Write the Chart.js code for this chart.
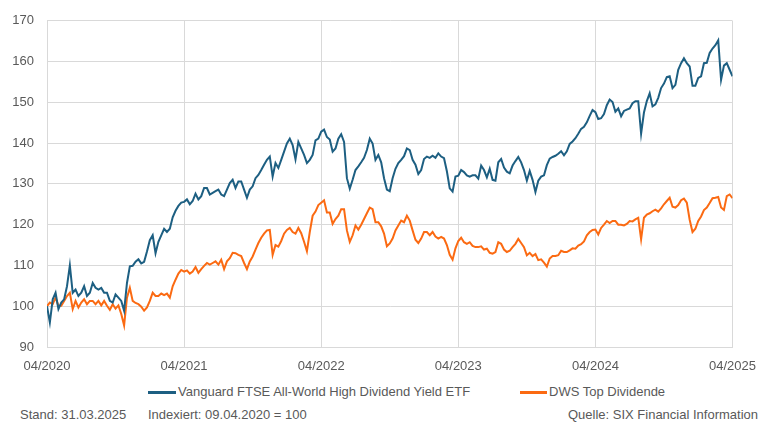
<!DOCTYPE html>
<html lang="de">
<head>
<meta charset="utf-8">
<script src="https://cdn.jsdelivr.net/npm/chart.js"></script>
<style>
  body { margin: 0; background: #fff; font-family: "Liberation Sans", Arial, sans-serif; color: #595959; }
  #wrap { position: relative; width: 768px; height: 431px; overflow: hidden; }
  #chart { position: absolute; left: 0; top: 0; }
  .txt { position: absolute; font-size: 13px; line-height: 16px; white-space: nowrap; }
  .key { position: absolute; height: 3px; }
</style>
</head>
<body>
<div id="wrap">
  <canvas id="chart" width="768" height="380"></canvas>
  <div class="key" style="left:148px; top:391px; width:28px; background:#1d5f82"></div>
  <div class="txt" style="left:178px; top:384px">Vanguard FTSE All-World High Dividend Yield ETF</div>
  <div class="key" style="left:520px; top:391px; width:27px; background:#fb6a12"></div>
  <div class="txt" style="left:549px; top:384px">DWS Top Dividende</div>
  <div class="txt" style="left:20px; top:407px">Stand: 31.03.2025</div>
  <div class="txt" style="left:148px; top:407px">Indexiert: 09.04.2020 = 100</div>
  <div class="txt" style="right:10px; top:407px">Quelle: SIX Financial Information</div>
</div>
<script>
// Ticks der x-Achse (jährlich)
const tickLabels = ['04/2020', '04/2021', '04/2022', '04/2023', '04/2024', '04/2025'];

// Indexwerte, wöchentlich (1/4 Monat) ab 09.04.2020 (= 100)
const vanguard = [
  100, 96, 101.7, 103.3, 99.3, 100.9, 101.7, 104.9, 110, 103.3,
  104.1, 102.5, 103.3, 104.9, 102.5, 103.3, 105.7, 104.5, 104.1, 104.5,
  103.3, 103.3, 101.3, 100.9, 102.9, 102.1, 101.3, 98.9, 105.7, 109.8,
  109.9, 110.9, 111.5, 110.5, 110.9, 113.4, 116.2, 117.4, 113, 115.8,
  117.4, 119, 118.2, 119, 121.8, 123.4, 124.6, 125.4, 125.6, 126.2,
  125, 125.8, 127.6, 126.2, 127, 129, 129, 127.4, 127.8, 128.2,
  128.6, 127.4, 127, 128.6, 130.2, 131, 129, 130.6, 130.6, 128.6,
  126.6, 128.6, 129.4, 131.4, 132.2, 133.4, 134.7, 135.9, 136.7, 131.8,
  135.1, 133.9, 135.9, 137.9, 139.9, 141.1, 139.5, 136, 140.3, 138.7,
  137.1, 135.1, 135.9, 137.1, 140.7, 141.1, 142.8, 143.3, 141.5, 140.9,
  137.9, 138.7, 141.1, 142.2, 140.3, 131.4, 128.8, 131, 133.4, 134.3,
  135.3, 136.4, 138.3, 141.1, 139.9, 135.9, 137.1, 135.3, 131.4, 128.6,
  128.2, 131.4, 133.7, 135.1, 135.9, 136.8, 138.7, 138.3, 135.9, 134.7,
  132.4, 133.4, 136.1, 136.7, 136.4, 136.9, 136.4, 137.5, 136.7, 136.3,
  133.1, 128.9, 128.1, 131.8, 132, 133.4, 132.9, 132.1, 131.8, 132.1,
  132.1, 131.3, 134.5, 133.4, 131.6, 133.7, 131, 130.8, 135.3, 136.1,
  134, 133, 132.6, 134.5, 135.6, 136.6, 135.3, 133.4, 130.8, 133.2,
  131, 128, 130.8, 131.8, 132.1, 134.6, 136.2, 136.6, 136.9, 137.4,
  138, 137, 138, 139.8, 140.4, 141.2, 142.3, 143.5, 144, 145.1,
  146.7, 148.1, 147.6, 145.9, 146.1, 147.1, 149.3, 150.7, 150.1, 147.7,
  148.5, 146.6, 147.9, 148.2, 148.5, 149.8, 150.3, 150.3, 142.3, 147.5,
  150.3, 152.2, 149, 149.5, 151.1, 153.5, 154.6, 156.2, 156.4, 153.5,
  154.3, 158, 159.6, 160.8, 159.6, 158.8, 154.1, 154.1, 156, 156.4,
  159.6, 159.7, 162.1, 163.2, 164, 165.2, 155.5, 159, 159.6, 158,
  156.4
];
const dws = [
  100, 100.9, 100.5, 102.1, 100.1, 100.1, 101.3, 102.5, 103.3, 99.3,
  101.3, 99.7, 100.9, 101.7, 100.5, 101.3, 101.3, 100.5, 101.3, 100.2,
  101.3, 100.1, 99.1, 100.5, 99.4, 100.2, 98.1, 95.3, 102.1, 104.5,
  101.3, 100.8, 100.5, 99.9, 98.9, 99.7, 101.3, 103.3, 102.5, 102.5,
  103.1, 102.7, 103.1, 102.1, 104.9, 106.5, 108, 108.9, 108.5, 108.8,
  108, 108.5, 109.6, 108.2, 109.1, 109.9, 110.6, 110.2, 110.6, 111,
  110.2, 111.4, 109.1, 111, 111.8, 113.1, 113, 112.6, 112.3, 110.6,
  109.1, 111, 112.2, 113.9, 115.5, 116.8, 117.8, 118.6, 118.7, 112.6,
  115, 114.6, 116, 117.8, 118.7, 119.2, 118.2, 117.8, 119.2, 117.9,
  115.8, 113.5, 118.2, 122.2, 123.2, 124.8, 125.4, 126, 123, 123,
  120.2, 121.4, 122.2, 123.8, 123.8, 118.6, 115.8, 117.4, 119.8, 118.8,
  120, 121.4, 122.8, 124.2, 123.8, 120.6, 120.6, 119.6, 117.8, 114.7,
  115.4, 116.6, 118.6, 119.8, 121, 120.6, 122.2, 121, 118.6, 116.3,
  115.5, 116.6, 118.2, 118.2, 117.4, 118.2, 117.1, 116.6, 117, 116.6,
  115, 112.6, 111.4, 114.2, 116, 116.8, 115.7, 115.3, 115.7, 114.8,
  114.5, 114.5, 114.7, 113.9, 114.1, 113.1, 112.9, 113.3, 115.7, 115.3,
  113.9, 113.3, 113.6, 114.5, 115.3, 116.5, 115.5, 114.5, 112.5, 113.1,
  112.3, 112.8, 111.3, 111.5, 110.7, 109.7, 111.7, 112.3, 112.3, 112.5,
  113.6, 113.3, 113.3, 113.7, 114.2, 114.1, 114.9, 115.2, 115.9, 117.4,
  118.2, 118.7, 118.8, 117.6, 119.2, 120, 120.9, 120.4, 120.9, 120.9,
  120, 120, 119.8, 120.2, 120.9, 120.8, 121.3, 121.7, 116.4, 121.7,
  122.5, 122.8, 123.3, 123.7, 123.2, 124, 125, 125.8, 126.6, 124.4,
  124.2, 124.8, 126, 126.4, 125.4, 121.2, 118.2, 119, 120.9, 122,
  123.6, 124.2, 125.3, 126.5, 126.6, 126.8, 124.2, 123.6, 127, 127.4,
  126.5
];

// x in Monaten seit 04/2020
const toPoints = arr => arr.map((v, i) => ({ x: i / 4, y: v }));

const gridColor = '#d9d9d9';
const ctx = document.getElementById('chart').getContext('2d');
new Chart(ctx, {
  type: 'line',
  data: {
    datasets: [{
      label: 'Vanguard FTSE All-World High Dividend Yield ETF',
      data: toPoints(vanguard),
      borderColor: '#1d5f82',
      borderWidth: 2,
      pointRadius: 0,
      tension: 0
    }, {
      label: 'DWS Top Dividende',
      data: toPoints(dws),
      borderColor: '#fb6a12',
      borderWidth: 2,
      pointRadius: 0,
      tension: 0
    }]
  },
  options: {
    responsive: false,
    animation: false,
    layout: { padding: { left: 0, right: 32, top: 15, bottom: 0 } },
    plugins: { legend: { display: false }, tooltip: { enabled: false } },
    scales: {
      x: {
        type: 'linear',
        min: 0,
        max: 60,
        ticks: {
          stepSize: 12,
          padding: 12,
          color: '#595959',
          font: { family: 'Liberation Sans', size: 13 },
          maxRotation: 0,
          callback: v => tickLabels[v / 12]
        },
        grid: { color: gridColor, drawTicks: false },
        border: { color: gridColor },
        afterFit: s => { s.height = 33; }
      },
      y: {
        min: 90,
        max: 170,
        ticks: {
          stepSize: 10,
          padding: 13,
          color: '#595959',
          font: { family: 'Liberation Sans', size: 13 }
        },
        grid: { color: gridColor, drawTicks: false },
        border: { color: gridColor },
        afterFit: s => { s.width = 47; }
      }
    }
  }
});
</script>
</body>
</html>
